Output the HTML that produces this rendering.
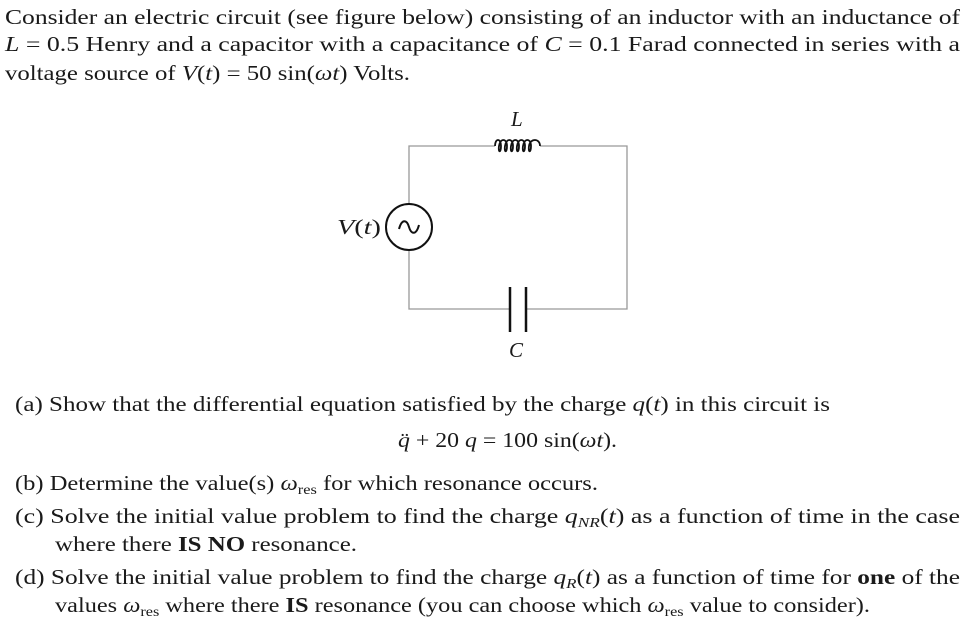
<!DOCTYPE html>
<html><head><meta charset="utf-8"><style>
html,body{margin:0;padding:0;background:#fff;}
svg{display:block;}
text{font-family:"Liberation Serif",serif;font-size:21px;fill:#1a1a1a;}
.i{font-style:italic;}
.b{font-weight:bold;}
.s{font-size:14px;}
</style></head><body>
<svg width="966" height="623" viewBox="0 0 966 623" xmlns="http://www.w3.org/2000/svg">
<text x="5" y="24" textLength="955" lengthAdjust="spacingAndGlyphs">Consider an electric circuit (see figure below) consisting of an inductor with an inductance of</text>
<text x="5" y="51" textLength="955" lengthAdjust="spacingAndGlyphs"><tspan class="i">L</tspan> = 0.5 Henry and a capacitor with a capacitance of <tspan class="i">C</tspan> = 0.1 Farad connected in series with a</text>
<text x="5" y="80" textLength="405" lengthAdjust="spacingAndGlyphs">voltage source of <tspan class="i">V</tspan>(<tspan class="i">t</tspan>) = 50 sin(<tspan class="i">ωt</tspan>) Volts.</text>

<g stroke="#999" stroke-width="1.3" fill="none">
<path d="M409 204 V146 H495 M540 146 H627 V309 H526 M510 309 H409 V250"/>
</g>
<circle cx="409" cy="227" r="23" fill="none" stroke="#111" stroke-width="2"/>
<path d="M399 229 C402 218 407 220 409 227 C411 234 416 236 419 225" fill="none" stroke="#111" stroke-width="2"/>
<path d="M495 146 C495 138 501 138 501 146 C501 153 498 153 499 146 C500 138 507 138 507 146 C507 153 504 153 505 146 C506 138 513 138 513 146 C513 153 510 153 511 146 C512 138 519 138 519 146 C519 153 516 153 517 146 C518 138 525 138 525 146 C525 153 522 153 523 146 C524 138 531 138 531 146 C531 153 528 153 529 146 C530 138 540 138 540 146" fill="none" stroke="#111" stroke-width="1.8"/>
<line x1="510" y1="287" x2="510" y2="332" stroke="#111" stroke-width="2.5"/>
<line x1="526" y1="287" x2="526" y2="332" stroke="#111" stroke-width="2.5"/>
<text x="511" y="126" class="i">L</text>
<text x="337" y="234" textLength="44" lengthAdjust="spacingAndGlyphs"><tspan class="i">V</tspan>(<tspan class="i">t</tspan>)</text>
<text x="509" y="357" class="i">C</text>

<text x="15" y="411" textLength="815" lengthAdjust="spacingAndGlyphs">(a) Show that the differential equation satisfied by the charge <tspan class="i">q</tspan>(<tspan class="i">t</tspan>) in this circuit is</text>
<text x="398" y="447" textLength="219" lengthAdjust="spacingAndGlyphs"><tspan class="i">q̈</tspan> + 20 <tspan class="i">q</tspan> = 100 sin(<tspan class="i">ωt</tspan>).</text>
<text x="15" y="490" textLength="583" lengthAdjust="spacingAndGlyphs">(b) Determine the value(s) <tspan class="i">ω</tspan><tspan class="s" dy="4">res</tspan><tspan dy="-4"> for which resonance occurs.</tspan></text>
<text x="15" y="523" textLength="945" lengthAdjust="spacingAndGlyphs">(c) Solve the initial value problem to find the charge <tspan class="i">q</tspan><tspan class="s i" dy="4">NR</tspan><tspan dy="-4">(</tspan><tspan class="i">t</tspan>) as a function of time in the case</text>
<text x="55" y="551" textLength="302" lengthAdjust="spacingAndGlyphs">where there <tspan class="b">IS NO</tspan> resonance.</text>
<text x="15" y="584" textLength="945" lengthAdjust="spacingAndGlyphs">(d) Solve the initial value problem to find the charge <tspan class="i">q</tspan><tspan class="s i" dy="4">R</tspan><tspan dy="-4">(</tspan><tspan class="i">t</tspan>) as a function of time for <tspan class="b">one</tspan> of the</text>
<text x="55" y="612" textLength="815" lengthAdjust="spacingAndGlyphs">values <tspan class="i">ω</tspan><tspan class="s" dy="4">res</tspan><tspan dy="-4"> where there </tspan><tspan class="b">IS</tspan> resonance (you can choose which <tspan class="i">ω</tspan><tspan class="s" dy="4">res</tspan><tspan dy="-4"> value to consider).</tspan></text>
</svg>
</body></html>
